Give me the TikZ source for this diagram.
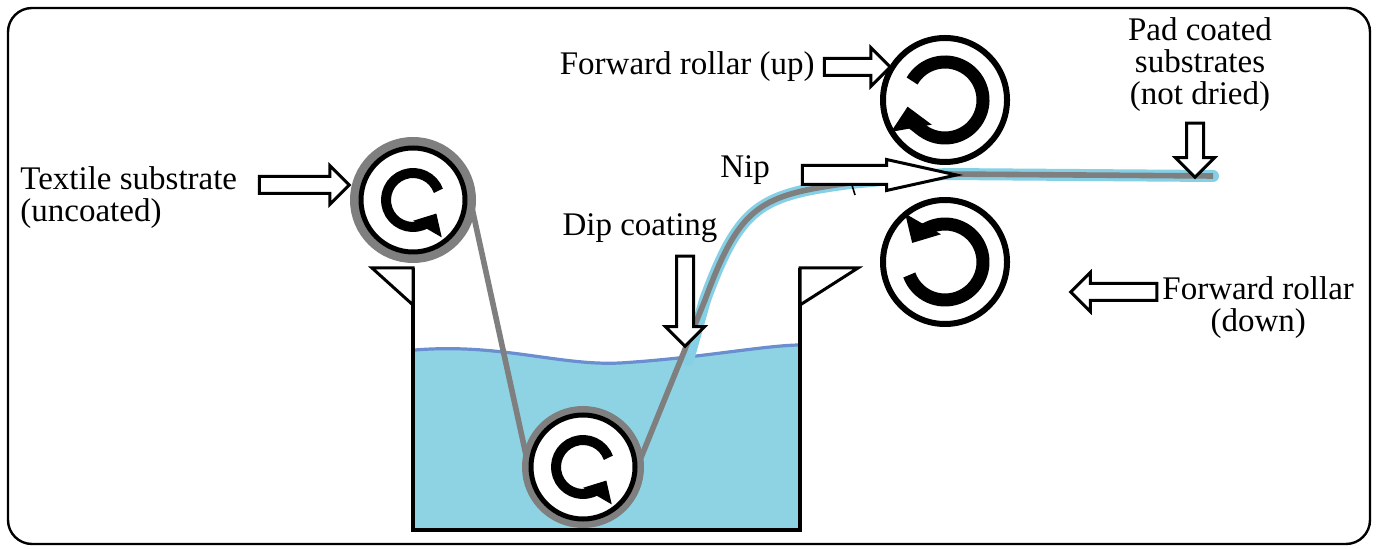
\documentclass[tikz,border=0pt]{standalone}
\usepackage{fontspec}
\setmainfont{Liberation Serif}
\usetikzlibrary{shapes.arrows,arrows.meta}
\definecolor{water}{HTML}{8ED3E3}
\definecolor{surf}{HTML}{6A8ED0}
\definecolor{coat}{HTML}{86D0E6}
\definecolor{fab}{HTML}{7F7F7F}
\begin{document}
\begin{tikzpicture}[x=0.5pt,y=-0.5pt,
 lab/.style={font=\fontsize{16.5}{16}\selectfont, inner sep=0pt},
 barrow/.style={single arrow, draw=black, fill=white, line width=1.5pt, inner sep=0pt,
   text height=7pt, text depth=0pt, text width=0pt,
   single arrow head extend=5.5pt, single arrow head indent=0pt, anchor=center},
 ring/.style={draw=black, line width=2.5pt, fill=white},
 spin/.style={line width=#1, -{Triangle[length=9pt,width=16pt]}}]
\useasboundingbox (0,0) rectangle (1379,549);
\draw[line width=1.2pt, rounded corners=12pt] (8,8) rectangle (1370,544);
% liquid
\fill[water] (415,350) .. controls (500,343) and (560,366) .. (620,363) .. controls (700,358) and (760,346) .. (798,345) -- (798,528) -- (415,528) -- cycle;
\draw[surf, line width=1.6pt] (415,350) .. controls (500,343) and (560,366) .. (620,363) .. controls (700,358) and (760,346) .. (798,345);
% tank
\draw[line width=2pt] (413,268) -- (413,530) -- (800,530) -- (800,268);
\draw[line width=1.5pt, fill=white] (372,268) -- (413,268) -- (413,305) -- cycle;
\draw[line width=1.5pt, fill=white] (800,268) -- (858,268) -- (800,305) -- cycle;
% coating
\draw[coat, line width=6pt, line cap=round] (688,360) -- (705,300) .. controls (740,205) and (760,195) .. (850,183) -- (945,174) -- (1213,176);
% fabric
\draw[fab, line width=5pt] (413,200) circle (58);
\draw[fab, line width=2.8pt] (472,208) -- (526,455) .. controls (535,532) and (632,542) .. (640,460) -- (705,300) .. controls (740,205) and (760,195) .. (850,183) -- (945,174) -- (1213,176);
\draw[line width=0.8pt] (848,172) -- (855,195);
\draw[fab, line width=4pt] (583,467) circle (57);
% rollers
\node[circle, ring, minimum size=52pt] (r1) at (413,200) {};
\node[circle, ring, minimum size=52pt] (r2) at (583,467) {};
\node[circle, ring, line width=3pt, minimum size=62pt] (r3) at (945,100) {};
\node[circle, ring, line width=3pt, minimum size=62pt] (r4) at (945,262) {};
\draw[fab, line width=2pt] (870,174) -- (1010,174);
\draw[spin=5pt] ([shift={(-20:27)}]r1.center) arc[start angle=-20, end angle=-330, radius=27];
\draw[spin=5pt] ([shift={(-20:27)}]r2.center) arc[start angle=-20, end angle=-330, radius=27];
\draw[spin=6.5pt, -{Triangle[length=11pt,width=20pt]}] ([shift={(-150:38)}]r3.center) arc[start angle=-150, end angle=170, radius=38];
\draw[spin=6.5pt, -{Triangle[length=11pt,width=20pt]}] ([shift={(160:38)}]r4.center) arc[start angle=160, end angle=-150, radius=38];
% arrows
\node[barrow, minimum height=45pt] (a1) at (300,185) {};
\node[barrow, minimum height=33pt] (a2) at (853,67) {};
\node[barrow, minimum height=27pt, rotate=-90] (a3) at (1195,146) {};
\node[barrow, minimum height=45pt, rotate=-90] (a4) at (685,297) {};
\node[barrow, minimum height=43pt, rotate=180] (a5) at (1118,292) {};
\node[barrow, minimum height=77pt, text height=8pt, single arrow head extend=3pt, single arrow tip angle=25] (a6) at (858,175) {};
% labels
\node[lab, anchor=west, align=left] (t1) at (20,198) {Textile substrate\\(uncoated)};
\node[lab, anchor=east] (t2) at (815,67) {Forward rollar (up)};
\node[lab, align=center] (t3) at (1200,65) {Pad coated\\substrates\\(not dried)};
\node[lab] (t4) at (745,170) {Nip};
\node[lab] (t5) at (640,228) {Dip coating};
\node[lab, anchor=west, align=center] (t6) at (1162,308) {Forward rollar\\(down)};
\end{tikzpicture}
\end{document}
